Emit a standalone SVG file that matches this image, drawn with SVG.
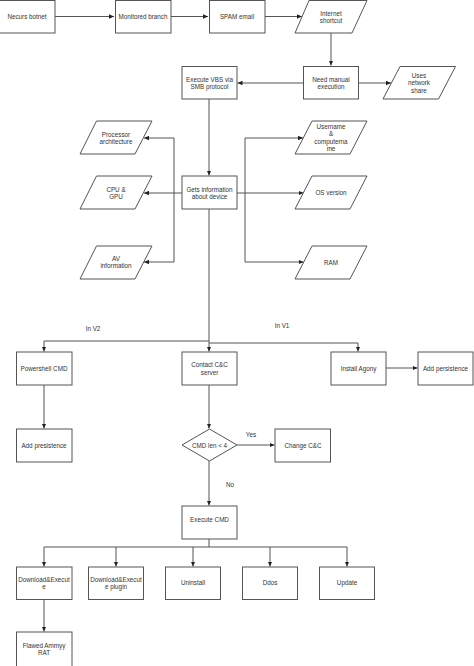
<svg xmlns="http://www.w3.org/2000/svg" width="474" height="666" viewBox="0 0 474 666">
<style>
.n{fill:#fff;stroke:#555;stroke-width:1}
.c{fill:none;stroke:#555;stroke-width:1}
text{font-family:"Liberation Sans",Arial,sans-serif;font-size:6.3px;fill:#333;text-anchor:middle;dominant-baseline:central}
</style>
<defs>
<marker id="a" markerUnits="userSpaceOnUse" markerWidth="6" markerHeight="6" refX="5" refY="3" orient="auto">
<path d="M0,0.8 L5,3 L0,5.2 Z" fill="#222"/>
</marker>
</defs>
<rect width="474" height="666" fill="#fff"/>
<g id="connectors">
<path class="c" d="M55,16.5 H114" marker-end="url(#a)"/>
<path class="c" d="M171,16.5 H208" marker-end="url(#a)"/>
<path class="c" d="M265,16.5 H302" marker-end="url(#a)"/>
<path class="c" d="M331,33 V65.5" marker-end="url(#a)"/>
<path class="c" d="M303,83 H237.5" marker-end="url(#a)"/>
<path class="c" d="M358,83 H391" marker-end="url(#a)"/>
<path class="c" d="M209,99 V175.5" marker-end="url(#a)"/>
<path class="c" d="M182,193 H174 M174,138 V262"/>
<path class="c" d="M174,138 H144" marker-end="url(#a)"/>
<path class="c" d="M174,193 H144" marker-end="url(#a)"/>
<path class="c" d="M174,262 H144" marker-end="url(#a)"/>
<path class="c" d="M237,193 H245 M245,138 V262"/>
<path class="c" d="M245,138 H303" marker-end="url(#a)"/>
<path class="c" d="M245,193 H303.5" marker-end="url(#a)"/>
<path class="c" d="M245,262 H303.5" marker-end="url(#a)"/>
<path class="c" d="M209,209 V351.5" marker-end="url(#a)"/>
<path class="c" d="M209,341 H44 V351.5" marker-end="url(#a)"/>
<path class="c" d="M209,343 H358 V351.5" marker-end="url(#a)"/>
<path class="c" d="M44,385 V428.5" marker-end="url(#a)"/>
<path class="c" d="M386,368 H417.5" marker-end="url(#a)"/>
<path class="c" d="M209,385 V428.5" marker-end="url(#a)"/>
<path class="c" d="M237,445 H274.5" marker-end="url(#a)"/>
<path class="c" d="M209,461 V505.5" marker-end="url(#a)"/>
<path class="c" d="M209,539 V547 M44,547 H347"/>
<path class="c" d="M44,547 V566.5" marker-end="url(#a)"/>
<path class="c" d="M116,547 V566.5" marker-end="url(#a)"/>
<path class="c" d="M193,547 V566.5" marker-end="url(#a)"/>
<path class="c" d="M270,547 V566.5" marker-end="url(#a)"/>
<path class="c" d="M347,547 V566.5" marker-end="url(#a)"/>
<path class="c" d="M44,599 V631.5" marker-end="url(#a)"/>
<text x="93" y="328">In V2</text>
<text x="282" y="325">In V1</text>
<text x="251" y="434">Yes</text>
<text x="230" y="484">No</text>
</g>
<g id="necurs"><rect class="n" x="-0.5" y="0.5" width="55.5" height="32.5"/><text x="27" y="16.5">Necurs botnet</text></g>
<g id="monitored"><rect class="n" x="115.5" y="0.5" width="55.5" height="32.5"/><text x="143" y="16.5">Monitored branch</text></g>
<g id="spam"><rect class="n" x="209.5" y="0.5" width="55.5" height="32.5"/><text x="237" y="16.5">SPAM email</text></g>
<g id="internet"><path class="n" d="M309,0.5 H367 L352,33 H295 Z"/><text x="331" y="13">Internet</text><text x="331" y="20.5">shortcut</text></g>
<g id="manual"><rect class="n" x="303.5" y="66.5" width="55" height="32.5"/><text x="331" y="79">Need manual</text><text x="331" y="86.5">execution</text></g>
<g id="network"><path class="n" d="M400,66.5 H455.5 L438.5,99 H383 Z"/><text x="419" y="75">Uses</text><text x="419" y="82.5">network</text><text x="419" y="90">share</text></g>
<g id="vbs"><rect class="n" x="182" y="66.5" width="55" height="32.5"/><text x="209.5" y="79">Execute VBS via</text><text x="209.5" y="86.5">SMB protocol</text></g>
<g id="gets"><rect class="n" x="182" y="176" width="55" height="33"/><text x="209.5" y="189">Gets information</text><text x="209.5" y="196.5">about device</text></g>
<g id="processor"><path class="n" d="M96.5,121 H152 L135,154 H80 Z"/><text x="116" y="134">Processor</text><text x="116" y="141.5">architecture</text></g>
<g id="cpu"><path class="n" d="M96.5,176 H152 L135,209 H80 Z"/><text x="116" y="189">CPU &amp;</text><text x="116" y="196.5">GPU</text></g>
<g id="av"><path class="n" d="M96.5,246 H152 L135,279 H80 Z"/><text x="116" y="258">AV</text><text x="116" y="265.5">information</text></g>
<g id="username"><path class="n" d="M312,121 H367 L350,154 H295 Z"/><text x="331" y="126">Username</text><text x="331" y="133.5">&amp;</text><text x="331" y="141">computerna</text><text x="331" y="148.5">me</text></g>
<g id="os"><path class="n" d="M312,176 H367 L350,209 H295 Z"/><text x="331" y="192.5">OS version</text></g>
<g id="ram"><path class="n" d="M312,246 H367 L350,279 H295 Z"/><text x="331" y="262">RAM</text></g>
<g id="powershell"><rect class="n" x="16.5" y="352" width="55.5" height="33"/><text x="44" y="368.5">Powershell CMD</text></g>
<g id="contact"><rect class="n" x="182" y="352" width="55" height="33"/><text x="209.5" y="364.5">Contact C&amp;C</text><text x="209.5" y="372">server</text></g>
<g id="agony"><rect class="n" x="331" y="352" width="55" height="33"/><text x="358.5" y="368.5">Install Agony</text></g>
<g id="persist1"><rect class="n" x="418" y="352" width="55" height="33"/><text x="445.5" y="368.5">Add persistence</text></g>
<g id="persist2"><rect class="n" x="16.5" y="429" width="55.5" height="33"/><text x="44" y="445.5">Add presistence</text></g>
<g id="cmdlen"><path class="n" d="M209.5,429 L237,445 L209.5,461 L182,445 Z"/><text x="209.5" y="445">CMD len &lt; 4</text></g>
<g id="changecc"><rect class="n" x="275" y="429" width="55.5" height="33"/><text x="303" y="445.5">Change C&amp;C</text></g>
<g id="execcmd"><rect class="n" x="182" y="506" width="55" height="33"/><text x="209.5" y="519">Execute CMD</text></g>
<g id="dlexec"><rect class="n" x="16.5" y="567" width="55.5" height="32.5"/><text x="44" y="579">Download&amp;Execut</text><text x="44" y="586.5">e</text></g>
<g id="dlplugin"><rect class="n" x="88.5" y="567" width="55" height="32.5"/><text x="116" y="579">Download&amp;Execut</text><text x="116" y="586.5">e plugin</text></g>
<g id="uninstall"><rect class="n" x="165.5" y="567" width="55" height="32.5"/><text x="193" y="582.5">Uninstall</text></g>
<g id="ddos"><rect class="n" x="242.5" y="567" width="55" height="32.5"/><text x="270" y="582.5">Ddos</text></g>
<g id="update"><rect class="n" x="319.5" y="567" width="55" height="32.5"/><text x="347" y="582.5">Update</text></g>
<g id="flawed"><rect class="n" x="16.5" y="632" width="55.5" height="36"/><text x="44" y="645">Flawed Ammyy</text><text x="44" y="652.5">RAT</text></g>
</svg>
